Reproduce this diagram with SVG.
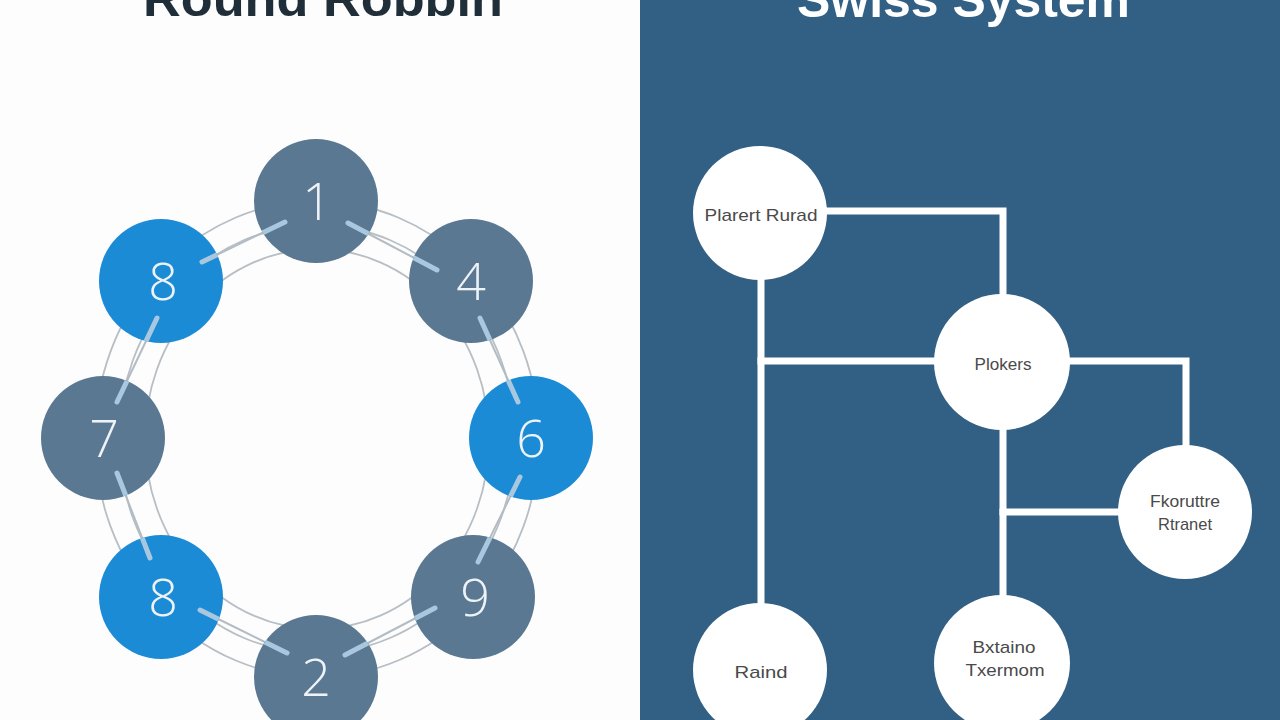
<svg xmlns="http://www.w3.org/2000/svg" width="1280" height="720" viewBox="0 0 1280 720">
  <defs>
    <style>
      .title { font-family: "Liberation Sans", Arial, sans-serif; font-weight: bold; font-size: 50px; }
      .ring { fill: none; stroke: #b7bec4; stroke-width: 1.8; }
      .chord-thin { stroke: #b3bcc4; stroke-width: 2; stroke-linecap: round; }
      .chord-stub { stroke: #a9c8df; stroke-width: 5; stroke-linecap: round; }
      .dark { fill: #5a7891; }
      .blue { fill: #1b8bd6; }
      .num { font-family: "Open Sans", "Liberation Sans", sans-serif; font-weight: 300; font-size: 52px; fill: #eef3f8; text-anchor: middle; }
      .wnode { fill: #ffffff; }
      .wlink { fill: none; stroke: #ffffff; stroke-width: 7; stroke-linejoin: miter; stroke-linecap: square; }
      .lbl { font-family: "Liberation Sans", Arial, sans-serif; font-size: 17px; fill: #4a4a4a; text-anchor: middle; }
    </style>
    <clipPath id="nodesClip">
      <circle cx="316" cy="201" r="62"/>
      <circle cx="471" cy="281" r="62"/>
      <circle cx="531" cy="438" r="62"/>
      <circle cx="473" cy="597" r="62"/>
      <circle cx="316" cy="677" r="62"/>
      <circle cx="161" cy="597" r="62"/>
      <circle cx="103" cy="438" r="62"/>
      <circle cx="161" cy="281" r="62"/>
    </clipPath>
  </defs>

  <!-- backgrounds -->
  <rect x="0" y="0" width="640" height="720" fill="#fdfdfd"/>
  <rect x="640" y="0" width="640" height="720" fill="#325f84"/>

  <!-- titles -->
  <text class="title" x="143" y="16" fill="#1f2e38" textLength="360" lengthAdjust="spacingAndGlyphs">Round Robbin</text>
  <text class="title" x="797" y="17" fill="#ffffff" textLength="333" lengthAdjust="spacingAndGlyphs">Swiss System</text>

  <!-- left connectors -->
  <g id="rr-connectors">
    <ellipse class="ring" cx="317" cy="439" rx="172" ry="190"/>
    <ellipse class="ring" cx="317" cy="439" rx="198" ry="214"/>
    <ellipse class="ring" cx="317" cy="439" rx="222" ry="238"/>
    <line class="chord-thin" x1="202" y1="262" x2="285" y2="222"/>
    <line class="chord-thin" x1="348" y1="223" x2="437" y2="270"/>
    <line class="chord-thin" x1="480" y1="318" x2="518" y2="402"/>
    <line class="chord-thin" x1="520" y1="477" x2="478" y2="562"/>
    <line class="chord-thin" x1="435" y1="608" x2="345" y2="655"/>
    <line class="chord-thin" x1="287" y1="653" x2="200" y2="610"/>
    <line class="chord-thin" x1="150" y1="558" x2="117" y2="473"/>
    <line class="chord-thin" x1="117" y1="402" x2="157" y2="318"/>
  </g>

  <!-- left nodes -->
  <g id="rr-node-1"><circle class="dark" cx="316" cy="201" r="62"/></g>
  <g id="rr-node-4"><circle class="dark" cx="471" cy="281" r="62"/></g>
  <g id="rr-node-6"><circle class="blue" cx="531" cy="438" r="62"/></g>
  <g id="rr-node-9"><circle class="dark" cx="473" cy="597" r="62"/></g>
  <g id="rr-node-2"><circle class="dark" cx="316" cy="677" r="62"/></g>
  <g id="rr-node-8b"><circle class="blue" cx="161" cy="597" r="62"/></g>
  <g id="rr-node-7"><circle class="dark" cx="103" cy="438" r="62"/></g>
  <g id="rr-node-8a"><circle class="blue" cx="161" cy="281" r="62"/></g>

  <!-- chord stubs over nodes -->
  <g id="rr-stubs" clip-path="url(#nodesClip)">
    <line class="chord-stub" x1="202" y1="262" x2="285" y2="222"/>
    <line class="chord-stub" x1="348" y1="223" x2="437" y2="270"/>
    <line class="chord-stub" x1="480" y1="318" x2="518" y2="402"/>
    <line class="chord-stub" x1="520" y1="477" x2="478" y2="562"/>
    <line class="chord-stub" x1="435" y1="608" x2="345" y2="655"/>
    <line class="chord-stub" x1="287" y1="653" x2="200" y2="610"/>
    <line class="chord-stub" x1="150" y1="558" x2="117" y2="473"/>
    <line class="chord-stub" x1="117" y1="402" x2="157" y2="318"/>
  </g>

  <!-- numbers -->
  <g id="rr-labels">
    <text class="num" x="317" y="220">1</text>
    <text class="num" x="471" y="300">4</text>
    <text class="num" x="531" y="457">6</text>
    <text class="num" x="475" y="616">9</text>
    <text class="num" x="316" y="696">2</text>
    <text class="num" x="163" y="616">8</text>
    <text class="num" x="104" y="457">7</text>
    <text class="num" x="163" y="300">8</text>
  </g>

  <!-- right connectors -->
  <g id="swiss-connectors">
    <polyline class="wlink" points="827,211 1003,211 1003,295"/>
    <line class="wlink" x1="761" y1="280" x2="761" y2="603"/>
    <line class="wlink" x1="761" y1="361" x2="934" y2="361"/>
    <polyline class="wlink" points="1069,361 1186,361 1186,446"/>
    <line class="wlink" x1="1003" y1="430" x2="1003" y2="596"/>
    <line class="wlink" x1="1003" y1="512" x2="1119" y2="512"/>
  </g>

  <!-- right nodes -->
  <g id="swiss-node-plarert">
    <circle class="wnode" cx="760" cy="213" r="67"/>
    <text class="lbl" x="761" y="221" textLength="113" lengthAdjust="spacingAndGlyphs">Plarert Rurad</text>
  </g>
  <g id="swiss-node-plokers">
    <circle class="wnode" cx="1002" cy="362" r="68"/>
    <text class="lbl" x="1003" y="370" textLength="57" lengthAdjust="spacingAndGlyphs">Plokers</text>
  </g>
  <g id="swiss-node-fkoruttre">
    <circle class="wnode" cx="1185" cy="512" r="67"/>
    <text class="lbl" x="1185" y="507" textLength="70" lengthAdjust="spacingAndGlyphs">Fkoruttre</text>
    <text class="lbl" x="1185" y="530" textLength="54" lengthAdjust="spacingAndGlyphs">Rtranet</text>
  </g>
  <g id="swiss-node-raind">
    <circle class="wnode" cx="760" cy="670" r="67"/>
    <text class="lbl" x="761" y="678" textLength="53" lengthAdjust="spacingAndGlyphs">Raind</text>
  </g>
  <g id="swiss-node-bxtaino">
    <circle class="wnode" cx="1002" cy="663" r="68"/>
    <text class="lbl" x="1004" y="653" textLength="63" lengthAdjust="spacingAndGlyphs">Bxtaino</text>
    <text class="lbl" x="1005" y="676" textLength="79" lengthAdjust="spacingAndGlyphs">Txermom</text>
  </g>
</svg>
